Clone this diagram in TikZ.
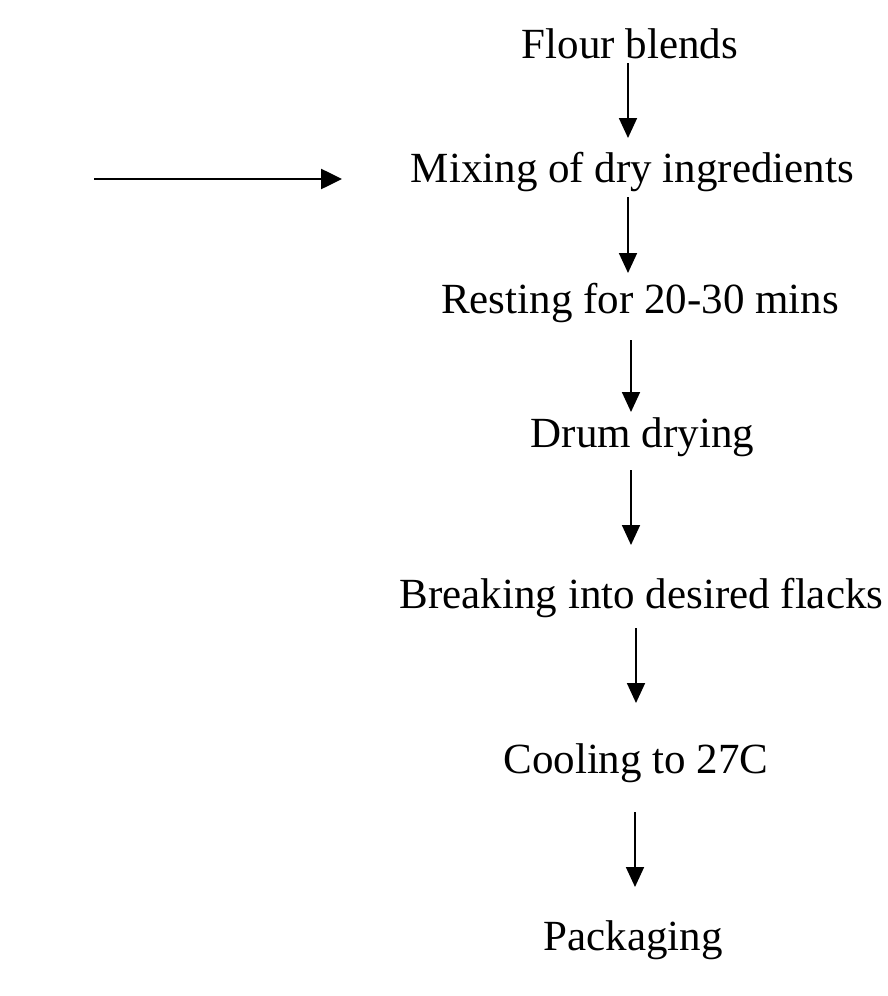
\documentclass[tikz,border=0pt]{standalone}
\usepackage{fontspec}
\setmainfont{Liberation Serif}
\usetikzlibrary{arrows.meta}
\begin{document}
\begin{tikzpicture}[x=1pt,y=1pt,
  lbl/.style={anchor=base,inner sep=0pt,font=\fontsize{43}{50}\selectfont},
  arr/.style={line width=1.8pt,-{Triangle[length=20pt,width=18pt]}},
  harr/.style={line width=2.6pt,-{Triangle[length=21pt,width=20pt]}}]
\useasboundingbox (0,0) rectangle (887,-996);
\node[lbl] (flour) at (630,-58) {Flour blends};
\node[lbl] (mix) at (632.5,-182) {Mixing of dry ingredients};
\node[lbl] (rest) at (640,-313) {Resting for 20-30 mins};
\node[lbl] (drum) at (642.5,-447) {Drum drying};
\node[lbl] (break) at (641.5,-608) {Breaking into desired flacks};
\node[lbl] (cool) at (636,-773) {Cooling to 27C};
\node[lbl] (pack) at (633,-950) {Packaging};
\coordinate (src) at (94,-179);
\draw[harr] (src) -- ([xshift=-290.5pt,yshift=3pt]mix.base);
\draw[arr] ([xshift=-2pt,yshift=-5pt]flour.base) -- ([xshift=-4.5pt,yshift=44pt]mix.base);
\draw[arr] ([xshift=-4.5pt,yshift=-15pt]mix.base) -- ([xshift=-12pt,yshift=40pt]rest.base);
\draw[arr] ([xshift=-9pt,yshift=-27pt]rest.base) -- ([xshift=-11.5pt,yshift=35pt]drum.base);
\draw[arr] ([xshift=-11.5pt,yshift=-23pt]drum.base) -- ([xshift=-10.5pt,yshift=63pt]break.base);
\draw[arr] ([xshift=-5.5pt,yshift=-20pt]break.base) -- ([xshift=0pt,yshift=70pt]cool.base);
\draw[arr] ([xshift=-1pt,yshift=-39pt]cool.base) -- ([xshift=2pt,yshift=63pt]pack.base);
\end{tikzpicture}
\end{document}
